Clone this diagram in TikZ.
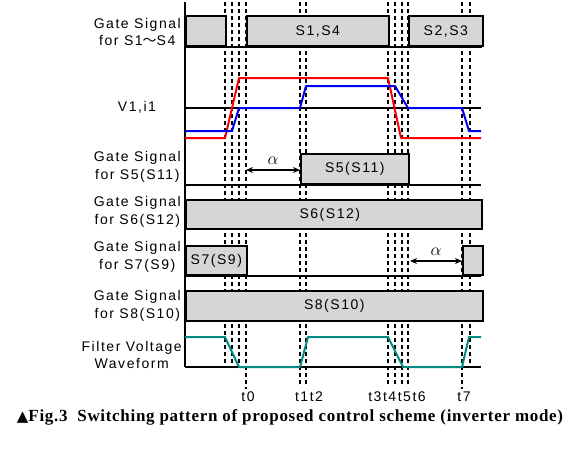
\documentclass[tikz,border=0pt]{standalone}
\usepackage{fontspec}
\setmainfont{Liberation Sans}[LetterSpace=11]
\newfontfamily\capfont{Liberation Serif}[LetterSpace=4]
\newfontfamily\symfont{DejaVu Sans}
\newfontfamily\cjkfont{Noto Sans CJK JP}
\usetikzlibrary{arrows.meta}
\definecolor{wvRed}{HTML}{FF0000}
\definecolor{wvBlue}{HTML}{0000F0}
\definecolor{wvTeal}{HTML}{008A84}
\definecolor{gsFill}{HTML}{D6D6D6}

\begin{document}
\begin{tikzpicture}[
  x=1pt, y=-1pt,
  font=\fontsize{14}{17.5}\selectfont,
  lbl/.style={anchor=east, align=center, inner sep=0pt},
  gbox/.style={draw=black, line width=1.6pt, fill=gsFill, anchor=south west,
               inner sep=0pt, minimum height=30pt},
  base/.style={line width=1.6pt, draw=black},
  guide/.style={line width=1.8pt, dash pattern=on 4pt off 3pt},
  wave/.style={line width=2pt, line join=round},
  dim/.style={{Stealth[length=7pt,width=6pt]}-{Stealth[length=7pt,width=6pt]}, line width=1.4pt},
  tlbl/.style={inner sep=0pt},
]
\useasboundingbox (0,0) rectangle (577,448);

% ── Guide lines (dashed, behind the gate boxes) ──────────────────────────────
\foreach \x in {225,232,239,470}{ \draw[guide] (\x,2) -- (\x,367); }
\foreach \x in {246,462}{ \draw[guide] (\x,2) -- (\x,389); }
\foreach \x in {300,306,388,395,402,408}{ \draw[guide] (\x,2) -- (\x,384); }

% ── Row labels ───────────────────────────────────────────────────────────────
\node[lbl] (l14) at (181,32)  {Gate Signal\\for S1{\cjkfont ～}S4};
\node[inner sep=0pt] (lvi) at (137,107) {V1,i1};
\node[lbl] (l5)  at (181,167) {Gate Signal\\for S5(S11)};
\node[lbl] (l6)  at (181,212) {Gate Signal\\for S6(S12)};
\node[lbl] (l7)  at (181,257) {Gate Signal\\for S7(S9)};
\node[lbl] (l8)  at (181,306) {Gate Signal\\for S8(S10)};
\node[lbl] (lfv) at (182,355) {Filter Voltage\\Waveform};

% ── Gate boxes ───────────────────────────────────────────────────────────────
\node[gbox, minimum width=40pt]  (g14a) at (185,47)  {};
\node[gbox, minimum width=142pt] (g14b) at (246,47)  {S1,S4};
\node[gbox, minimum width=74pt]  (g23)  at (408,47)  {S2,S3};
\node[gbox, minimum width=108pt] (g5)   at (300,185) {S5(S11)};
\node[gbox, minimum width=296pt, minimum height=29pt] (g6) at (185,230) {\hspace*{-8pt}S6(S12)};
\node[gbox, minimum width=61pt, minimum height=29pt]  (g7a) at (185,276) {S7(S9)};
\node[gbox, minimum width=20pt, minimum height=29pt]  (g7b) at (462,276) {};
\node[gbox, minimum width=297pt] (g8)   at (185,322) {S8(S10)};

% ── Axis and base lines ──────────────────────────────────────────────────────
\draw[base] (185,2) -- (185,367);
\draw[base] (185,47)  -- (482,47);
\draw[base] (185,108) -- (481,108);
\draw[base] (185,185) -- (481,185);
\draw[base] (185,276) -- (481,276);
\draw[base] (185,367) -- (481,367);

% ── V1 and i1 ────────────────────────────────────────────────────────────────
\draw[wave, wvRed] (185,138) -- (225,138) -- (239,78) -- (388,78) -- (401,138) -- (481,138);
\draw[wave, wvBlue] (185,131) -- (232,131) -- (239,108) -- (300,108) -- (306,86)
  -- (395,86) -- (408,108) -- (462,108) -- (469,131) -- (481,131);

% ── Filter voltage ───────────────────────────────────────────────────────────
\draw[wave, wvTeal] (185,337) -- (225,337) -- (239,367) -- (300,367) -- (308,337)
  -- (388,337) -- (403,367) -- (462,367) -- (469,337) -- (481,337);

% ── Dead-time arrows ─────────────────────────────────────────────────────────
\coordinate (d5) at (246,170);
\draw[dim] (d5) -- (d5 -| g5.west) node[midway, above=1pt, font=\fontsize{17}{18}\selectfont] (al5) {$\alpha$};
\coordinate (d7) at (410,261);
\draw[dim] (d7) -- (d7 -| g7b.west) node[midway, above=1pt, font=\fontsize{17}{18}\selectfont] (al7) {$\alpha$};

% ── Time marks ───────────────────────────────────────────────────────────────
\node[tlbl] (t0)   at (248,397) {t0};
\node[tlbl] (t12)  at (309,397) {t1t2};
\node[tlbl] (t36)  at (397,397) {t3t4t5t6};
\node[tlbl] (t7)   at (464,397) {t7};

% ── Caption ──────────────────────────────────────────────────────────────────
\node[inner sep=0pt, font=\capfont\bfseries\fontsize{17}{19}\selectfont] (cap) at (290,417)
  {{\symfont\fontsize{15}{17}\selectfont ▲}Fig.3\ \ Switching pattern of proposed control scheme (inverter mode)};
\end{tikzpicture}
\end{document}
